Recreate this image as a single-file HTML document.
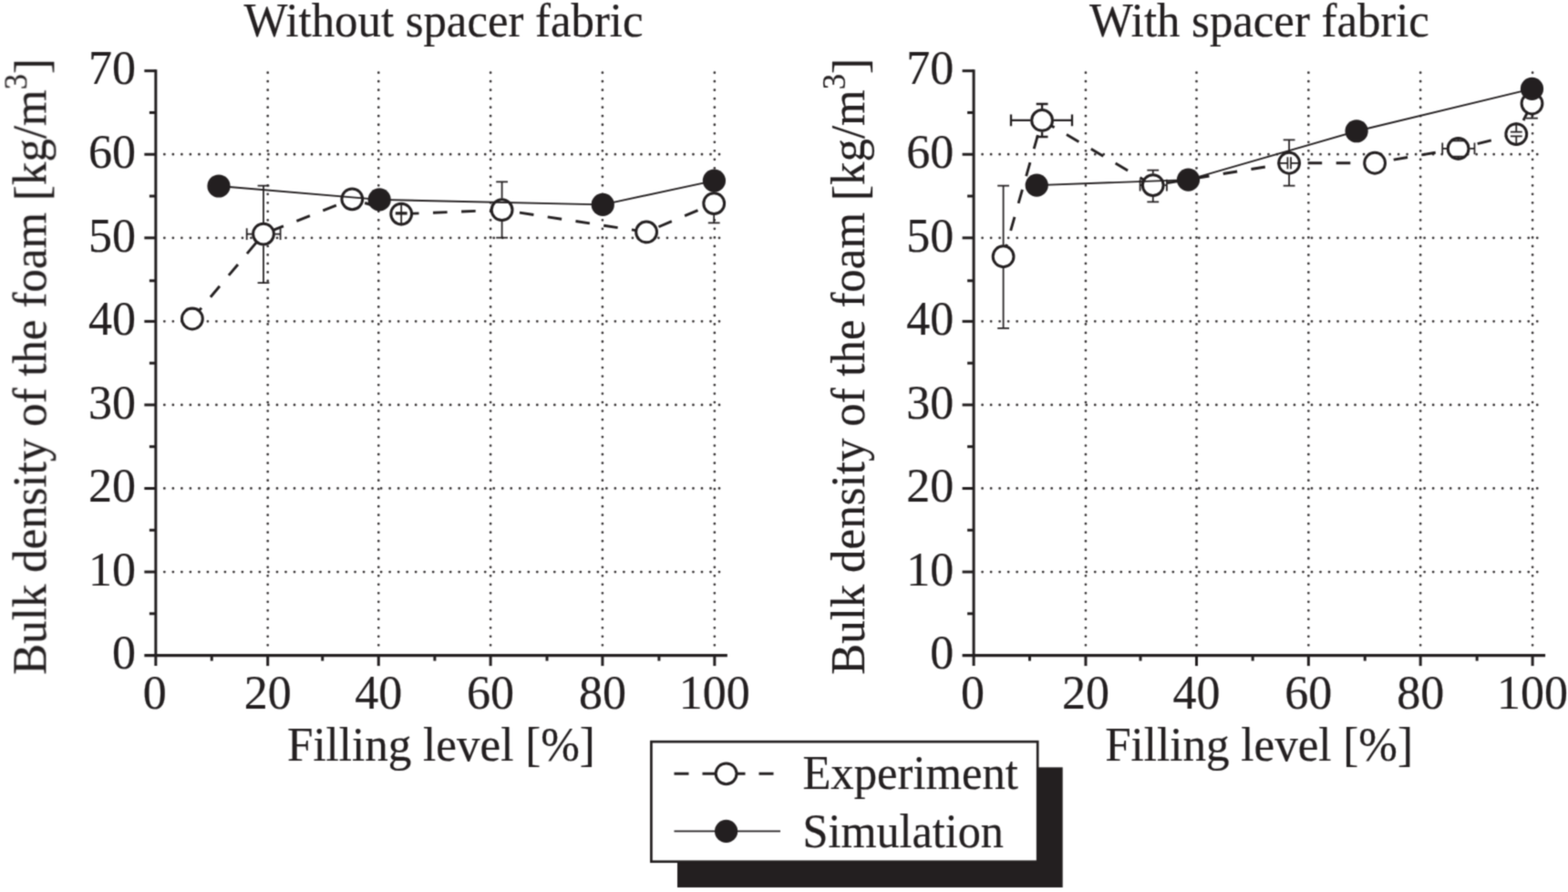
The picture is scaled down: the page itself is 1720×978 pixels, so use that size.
<!DOCTYPE html>
<html lang="en">
<head>
<meta charset="utf-8">
<title>Bulk density of the foam vs. filling level</title>
<style>
html,body{margin:0;padding:0;background:#fff;}
body{width:1720px;height:978px;overflow:hidden;}
svg{display:block;font-family:"Liberation Serif",serif;}
</style>
</head>
<body>
<svg width="1720" height="978" viewBox="0 0 1720 978">
<defs><filter id="soft" x="0" y="0" width="1720" height="978" filterUnits="userSpaceOnUse" color-interpolation-filters="sRGB"><feConvolveMatrix order="3" kernelMatrix="0.04000 0.12000 0.04000 0.12000 0.36000 0.12000 0.04000 0.12000 0.04000" divisor="1" edgeMode="duplicate" preserveAlpha="false"/></filter></defs>
<rect width="1720" height="978" fill="#fff"/>
<g filter="url(#soft)">
<g stroke="#353132" stroke-width="2.75" stroke-linecap="round" stroke-dasharray="0.01 9.5" fill="none">
<line x1="180.35" y1="627.04" x2="790.35" y2="627.04"/>
<line x1="180.35" y1="535.48" x2="790.35" y2="535.48"/>
<line x1="180.35" y1="443.92" x2="790.35" y2="443.92"/>
<line x1="180.35" y1="352.36" x2="790.35" y2="352.36"/>
<line x1="180.35" y1="260.80" x2="790.35" y2="260.80"/>
<line x1="180.35" y1="169.24" x2="790.35" y2="169.24"/>
<line x1="293.70" y1="79.68" x2="293.70" y2="710.60"/>
<line x1="415.25" y1="79.68" x2="415.25" y2="710.60"/>
<line x1="538.10" y1="79.68" x2="538.10" y2="710.60"/>
<line x1="660.90" y1="79.68" x2="660.90" y2="710.60"/>
<line x1="783.85" y1="79.68" x2="783.85" y2="710.60"/>
</g>
<g stroke="#231f20" stroke-width="3.0" fill="none">
<line x1="170.85" y1="76.18" x2="170.85" y2="730.10"/>
<line x1="158.35" y1="718.60" x2="797.85" y2="718.60" stroke-width="3.3"/>
<line x1="163.85" y1="672.82" x2="170.85" y2="672.82"/>
<line x1="158.35" y1="627.04" x2="170.85" y2="627.04"/>
<line x1="163.85" y1="581.26" x2="170.85" y2="581.26"/>
<line x1="158.35" y1="535.48" x2="170.85" y2="535.48"/>
<line x1="163.85" y1="489.70" x2="170.85" y2="489.70"/>
<line x1="158.35" y1="443.92" x2="170.85" y2="443.92"/>
<line x1="163.85" y1="398.14" x2="170.85" y2="398.14"/>
<line x1="158.35" y1="352.36" x2="170.85" y2="352.36"/>
<line x1="163.85" y1="307.78" x2="170.85" y2="307.78"/>
<line x1="158.35" y1="260.80" x2="170.85" y2="260.80"/>
<line x1="163.85" y1="215.02" x2="170.85" y2="215.02"/>
<line x1="158.35" y1="169.24" x2="170.85" y2="169.24"/>
<line x1="163.85" y1="123.46" x2="170.85" y2="123.46"/>
<line x1="158.35" y1="77.68" x2="170.85" y2="77.68"/>
<line x1="232.25" y1="718.60" x2="232.25" y2="724.60"/>
<line x1="293.70" y1="718.60" x2="293.70" y2="730.10"/>
<line x1="353.75" y1="718.60" x2="353.75" y2="724.60"/>
<line x1="415.25" y1="718.60" x2="415.25" y2="730.10"/>
<line x1="476.90" y1="718.60" x2="476.90" y2="724.60"/>
<line x1="538.10" y1="718.60" x2="538.10" y2="730.10"/>
<line x1="600.00" y1="718.60" x2="600.00" y2="724.60"/>
<line x1="660.90" y1="718.60" x2="660.90" y2="730.10"/>
<line x1="722.90" y1="718.60" x2="722.90" y2="724.60"/>
<line x1="783.85" y1="718.60" x2="783.85" y2="730.10"/>
</g>
<g fill="#231f20" stroke="#231f20" stroke-width="0.2" font-size="50.8">
<text transform="translate(148.95,733.40) scale(1,1.015)" text-anchor="end" font-size="52">0</text>
<text transform="translate(148.95,641.84) scale(1,1.015)" text-anchor="end" font-size="52">10</text>
<text transform="translate(148.95,550.28) scale(1,1.015)" text-anchor="end" font-size="52">20</text>
<text transform="translate(148.95,458.72) scale(1,1.015)" text-anchor="end" font-size="52">30</text>
<text transform="translate(148.95,367.16) scale(1,1.015)" text-anchor="end" font-size="52">40</text>
<text transform="translate(148.95,275.60) scale(1,1.015)" text-anchor="end" font-size="52">50</text>
<text transform="translate(148.95,184.04) scale(1,1.015)" text-anchor="end" font-size="52">60</text>
<text transform="translate(148.95,92.48) scale(1,1.015)" text-anchor="end" font-size="52">70</text>
<text transform="translate(169.85,776.70) scale(1,1.015)" text-anchor="middle" font-size="52">0</text>
<text transform="translate(293.70,776.70) scale(1,1.015)" text-anchor="middle" font-size="52">20</text>
<text transform="translate(415.25,776.70) scale(1,1.015)" text-anchor="middle" font-size="52">40</text>
<text transform="translate(538.10,776.70) scale(1,1.015)" text-anchor="middle" font-size="52">60</text>
<text transform="translate(660.90,776.70) scale(1,1.015)" text-anchor="middle" font-size="52">80</text>
<text transform="translate(783.85,776.70) scale(1,1.015)" text-anchor="middle" font-size="52">100</text>
<text transform="translate(267.60,39.80) scale(1,1.04)">Without spacer fabric</text>
<text transform="translate(315.00,834.20) scale(1,1.04)" font-size="51.1">Filling level [%]</text>
<text transform="translate(50.5,739.8) rotate(-90) scale(1,1.04)" font-size="51">Bulk density of the foam <tspan dy="1.8">[</tspan><tspan dy="-1.8">kg/m</tspan><tspan dy="-20.5" font-size="34.5">3</tspan><tspan dy="22.3">]</tspan></text>
</g>
<g fill="none" stroke="#231f20" stroke-width="2.9">
<line x1="210.90" y1="349.50" x2="289.00" y2="256.60" stroke-dasharray="15.6 15.5" stroke-dashoffset="0.00"/>
<line x1="289.00" y1="256.60" x2="386.30" y2="218.30" stroke-dasharray="15.6 15.5" stroke-dashoffset="23.10"/>
<line x1="386.30" y1="218.30" x2="440.20" y2="234.60" stroke-dasharray="15.6 15.5" stroke-dashoffset="16.60"/>
<line x1="440.20" y1="234.60" x2="550.60" y2="230.20" stroke-dasharray="15.6 15.5" stroke-dashoffset="27.35"/>
<line x1="550.60" y1="230.20" x2="709.10" y2="254.40" stroke-dasharray="15.6 15.5" stroke-dashoffset="11.50"/>
<line x1="709.10" y1="254.40" x2="783.20" y2="223.10" stroke-dasharray="15.6 15.5" stroke-dashoffset="16.60"/>
</g>
<g fill="#fff" stroke="#231f20" stroke-width="3.0">
<circle cx="210.90" cy="349.50" r="11.4"/>
<circle cx="289.00" cy="256.60" r="11.4"/>
<circle cx="386.30" cy="218.30" r="11.4"/>
<circle cx="440.20" cy="234.60" r="11.4"/>
<circle cx="550.60" cy="230.20" r="11.4"/>
<circle cx="709.10" cy="254.40" r="11.4"/>
<circle cx="783.20" cy="223.10" r="11.4"/>
</g>
<g stroke="#231f20" stroke-width="1.75" fill="none">
<path d="M210.90 336.90V338.70M204.50 338.70H217.30"/>
<path d="M289.00 244.00V203.50M282.60 203.50H295.40M289.00 269.20V310.00M282.60 310.00H295.40M276.40 256.60H270.70M270.70 250.20V263.00M301.60 256.60H307.60M307.60 250.20V263.00"/>
<path d="M440.20 222.00V233.20M433.80 233.20H446.60M440.20 247.20V234.70M433.80 234.70H446.60"/>
<path d="M550.60 217.60V199.40M544.20 199.40H557.00M550.60 242.80V260.60M544.20 260.60H557.00"/>
<path d="M783.20 210.50V201.80M776.80 201.80H789.60M783.20 235.70V244.40M776.80 244.40H789.60"/>
</g>
<polyline points="240.00,204.00 416.20,218.90 661.25,224.40 783.40,198.10" fill="none" stroke="#231f20" stroke-width="1.9"/>
<g fill="#231f20">
<circle cx="240.00" cy="204.00" r="12.6"/>
<circle cx="416.20" cy="218.90" r="12.6"/>
<circle cx="661.25" cy="224.40" r="12.6"/>
<circle cx="783.40" cy="198.10" r="12.6"/>
</g>
<g stroke="#353132" stroke-width="2.75" stroke-linecap="round" stroke-dasharray="0.01 9.5" fill="none">
<line x1="1077.60" y1="627.04" x2="1687.60" y2="627.04"/>
<line x1="1077.60" y1="535.48" x2="1687.60" y2="535.48"/>
<line x1="1077.60" y1="443.92" x2="1687.60" y2="443.92"/>
<line x1="1077.60" y1="352.36" x2="1687.60" y2="352.36"/>
<line x1="1077.60" y1="260.80" x2="1687.60" y2="260.80"/>
<line x1="1077.60" y1="169.24" x2="1687.60" y2="169.24"/>
<line x1="1190.95" y1="79.68" x2="1190.95" y2="710.60"/>
<line x1="1312.50" y1="79.68" x2="1312.50" y2="710.60"/>
<line x1="1435.35" y1="79.68" x2="1435.35" y2="710.60"/>
<line x1="1558.15" y1="79.68" x2="1558.15" y2="710.60"/>
<line x1="1681.10" y1="79.68" x2="1681.10" y2="710.60"/>
</g>
<g stroke="#231f20" stroke-width="3.0" fill="none">
<line x1="1068.10" y1="76.18" x2="1068.10" y2="730.10"/>
<line x1="1055.60" y1="718.60" x2="1695.10" y2="718.60" stroke-width="3.3"/>
<line x1="1061.10" y1="672.82" x2="1068.10" y2="672.82"/>
<line x1="1055.60" y1="627.04" x2="1068.10" y2="627.04"/>
<line x1="1061.10" y1="581.26" x2="1068.10" y2="581.26"/>
<line x1="1055.60" y1="535.48" x2="1068.10" y2="535.48"/>
<line x1="1061.10" y1="489.70" x2="1068.10" y2="489.70"/>
<line x1="1055.60" y1="443.92" x2="1068.10" y2="443.92"/>
<line x1="1061.10" y1="398.14" x2="1068.10" y2="398.14"/>
<line x1="1055.60" y1="352.36" x2="1068.10" y2="352.36"/>
<line x1="1061.10" y1="307.78" x2="1068.10" y2="307.78"/>
<line x1="1055.60" y1="260.80" x2="1068.10" y2="260.80"/>
<line x1="1061.10" y1="215.02" x2="1068.10" y2="215.02"/>
<line x1="1055.60" y1="169.24" x2="1068.10" y2="169.24"/>
<line x1="1061.10" y1="123.46" x2="1068.10" y2="123.46"/>
<line x1="1055.60" y1="77.68" x2="1068.10" y2="77.68"/>
<line x1="1129.50" y1="718.60" x2="1129.50" y2="724.60"/>
<line x1="1190.95" y1="718.60" x2="1190.95" y2="730.10"/>
<line x1="1251.00" y1="718.60" x2="1251.00" y2="724.60"/>
<line x1="1312.50" y1="718.60" x2="1312.50" y2="730.10"/>
<line x1="1374.15" y1="718.60" x2="1374.15" y2="724.60"/>
<line x1="1435.35" y1="718.60" x2="1435.35" y2="730.10"/>
<line x1="1497.25" y1="718.60" x2="1497.25" y2="724.60"/>
<line x1="1558.15" y1="718.60" x2="1558.15" y2="730.10"/>
<line x1="1620.15" y1="718.60" x2="1620.15" y2="724.60"/>
<line x1="1681.10" y1="718.60" x2="1681.10" y2="730.10"/>
</g>
<g fill="#231f20" stroke="#231f20" stroke-width="0.2" font-size="50.8">
<text transform="translate(1046.20,733.40) scale(1,1.015)" text-anchor="end" font-size="52">0</text>
<text transform="translate(1046.20,641.84) scale(1,1.015)" text-anchor="end" font-size="52">10</text>
<text transform="translate(1046.20,550.28) scale(1,1.015)" text-anchor="end" font-size="52">20</text>
<text transform="translate(1046.20,458.72) scale(1,1.015)" text-anchor="end" font-size="52">30</text>
<text transform="translate(1046.20,367.16) scale(1,1.015)" text-anchor="end" font-size="52">40</text>
<text transform="translate(1046.20,275.60) scale(1,1.015)" text-anchor="end" font-size="52">50</text>
<text transform="translate(1046.20,184.04) scale(1,1.015)" text-anchor="end" font-size="52">60</text>
<text transform="translate(1046.20,92.48) scale(1,1.015)" text-anchor="end" font-size="52">70</text>
<text transform="translate(1067.10,776.70) scale(1,1.015)" text-anchor="middle" font-size="52">0</text>
<text transform="translate(1190.95,776.70) scale(1,1.015)" text-anchor="middle" font-size="52">20</text>
<text transform="translate(1312.50,776.70) scale(1,1.015)" text-anchor="middle" font-size="52">40</text>
<text transform="translate(1435.35,776.70) scale(1,1.015)" text-anchor="middle" font-size="52">60</text>
<text transform="translate(1558.15,776.70) scale(1,1.015)" text-anchor="middle" font-size="52">80</text>
<text transform="translate(1681.10,776.70) scale(1,1.015)" text-anchor="middle" font-size="52">100</text>
<text transform="translate(1194.90,39.80) scale(1,1.04)">With spacer fabric</text>
<text transform="translate(1212.20,834.20) scale(1,1.04)" font-size="51.1">Filling level [%]</text>
<text transform="translate(948.2,739.8) rotate(-90) scale(1,1.04)" font-size="51">Bulk density of the foam <tspan dy="1.8">[</tspan><tspan dy="-1.8">kg/m</tspan><tspan dy="-20.5" font-size="34.5">3</tspan><tspan dy="22.3">]</tspan></text>
</g>
<g fill="none" stroke="#231f20" stroke-width="2.9">
<line x1="1100.60" y1="281.25" x2="1143.10" y2="131.90" stroke-dasharray="15.6 15.5" stroke-dashoffset="1.60"/>
<line x1="1143.10" y1="131.90" x2="1264.75" y2="203.10" stroke-dasharray="15.6 15.5" stroke-dashoffset="0.00"/>
<line x1="1264.75" y1="203.10" x2="1414.10" y2="178.75" stroke-dasharray="15.6 15.5" stroke-dashoffset="15.30"/>
<line x1="1414.10" y1="178.75" x2="1508.10" y2="178.75" stroke-dasharray="15.6 15.5" stroke-dashoffset="10.60"/>
<line x1="1508.10" y1="178.75" x2="1599.60" y2="162.90" stroke-dasharray="15.6 15.5" stroke-dashoffset="10.20"/>
<line x1="1599.60" y1="162.90" x2="1663.30" y2="147.10" stroke-dasharray="15.6 15.5" stroke-dashoffset="9.40"/>
<line x1="1663.30" y1="147.10" x2="1680.50" y2="113.50" stroke-dasharray="15.6 15.5" stroke-dashoffset="14.10"/>
</g>
<g fill="#fff" stroke="#231f20" stroke-width="3.0">
<circle cx="1100.60" cy="281.25" r="11.4"/>
<circle cx="1143.10" cy="131.90" r="11.4"/>
<circle cx="1264.75" cy="203.10" r="11.4"/>
<circle cx="1414.10" cy="178.75" r="11.4"/>
<circle cx="1508.10" cy="178.75" r="11.4"/>
<circle cx="1599.60" cy="162.90" r="11.4"/>
<circle cx="1663.30" cy="147.10" r="11.4"/>
<circle cx="1680.50" cy="113.50" r="11.4"/>
</g>
<g stroke="#231f20" stroke-width="1.75" fill="none">
<path d="M1100.60 268.65V203.50M1094.20 203.50H1107.00M1100.60 293.85V359.80M1094.20 359.80H1107.00"/>
<path d="M1143.10 119.30V114.00M1136.70 114.00H1149.50M1143.10 144.50V150.00M1136.70 150.00H1149.50M1130.50 131.90H1109.00M1109.00 125.50V138.30M1155.70 131.90H1176.00M1176.00 125.50V138.30" stroke-width="2.3"/>
<path d="M1264.75 190.50V186.50M1258.35 186.50H1271.15M1264.75 215.70V221.25M1258.35 221.25H1271.15M1252.15 203.10H1250.60M1250.60 196.70V209.50M1277.35 203.10H1279.90M1279.90 196.70V209.50"/>
<path d="M1414.10 166.15V153.40M1407.70 153.40H1420.50M1414.10 191.35V203.50M1407.70 203.50H1420.50M1401.50 178.75H1412.45M1412.45 172.35V185.15M1426.70 178.75H1416.00M1416.00 172.35V185.15"/>
<path d="M1599.60 150.30V154.30M1593.20 154.30H1606.00M1599.60 175.50V171.50M1593.20 171.50H1606.00M1587.00 162.90H1582.25M1582.25 156.50V169.30M1612.20 162.90H1617.50M1617.50 156.50V169.30"/>
<path d="M1663.30 134.50V144.60M1656.90 144.60H1669.70M1663.30 159.70V149.40M1656.90 149.40H1669.70"/>
<path d="M1680.50 100.90V97.30M1674.10 97.30H1686.90M1680.50 126.10V129.70M1674.10 129.70H1686.90"/>
</g>
<polyline points="1137.25,203.10 1303.50,197.10 1488.10,143.75 1680.50,97.40" fill="none" stroke="#231f20" stroke-width="1.9"/>
<g fill="#231f20">
<circle cx="1137.25" cy="203.10" r="12.6"/>
<circle cx="1303.50" cy="197.10" r="12.6"/>
<circle cx="1488.10" cy="143.75" r="12.6"/>
<circle cx="1680.50" cy="97.40" r="12.6"/>
</g>
<rect x="743" y="841.3" width="422.7" height="131.7" fill="#231f20"/>
<rect x="714.4" y="813.2" width="423.8" height="131.5" fill="#fff" stroke="#231f20" stroke-width="2.7"/>
<line x1="739.5" y1="848.3" x2="857" y2="848.3" stroke="#231f20" stroke-width="2.9" stroke-dasharray="16 15"/>
<circle cx="796.6" cy="848.3" r="11.4" fill="#fff" stroke="#231f20" stroke-width="3.0"/>
<line x1="739.5" y1="911.4" x2="856" y2="911.4" stroke="#231f20" stroke-width="1.9"/>
<circle cx="796.6" cy="911.4" r="12.6" fill="#231f20"/>
<g fill="#231f20" stroke="#231f20" stroke-width="0.2" font-size="50.8"><text transform="translate(880.40,864.80) scale(1,1.04)" font-size="50.7">Experiment</text><text transform="translate(880.60,928.50) scale(1,1.04)" font-size="50.2">Simulation</text></g>
</g>
</svg>
</body>
</html>
